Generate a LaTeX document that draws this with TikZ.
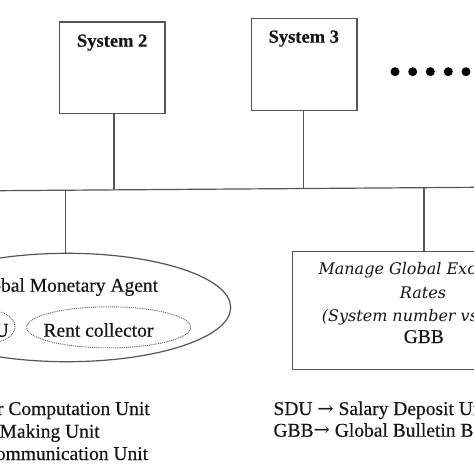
\documentclass[tikz,border=0pt]{standalone}
\usepackage{fontspec}
\setmainfont{Liberation Serif}[FakeBold=0.35]
\newfontfamily\slabfont{DejaVu Serif}
\usetikzlibrary{shapes.geometric}
\definecolor{linegray}{HTML}{555555}
\definecolor{inkc}{HTML}{151515}
\tikzset{
  wire/.style={draw=linegray, line width=1.2pt},
  sysbox/.style={draw=linegray, line width=1.2pt, rectangle, inner sep=0pt, fill=none},
  bigell/.style={draw=linegray, line width=1.2pt, ellipse, inner sep=0pt},
  dotell/.style={draw=linegray, line width=0.9pt, densely dotted, ellipse, inner sep=0pt},
  txt/.style={inner sep=0pt, text=inkc, font=\fontsize{19.5}{21}\selectfont},
  systxt/.style={inner sep=0pt, text=inkc, font=\fontsize{18.5}{20}\selectfont\bfseries},
  ittxt/.style={inner sep=0pt, text=inkc, font=\slabfont\itshape\fontsize{16}{18}\selectfont},
  blob/.style={circle, fill=black, inner sep=0pt, minimum size=9pt}
}
\begin{document}
\begin{tikzpicture}[x=1pt,y=-1pt]
\useasboundingbox (0,0) rectangle (474,474);
\fill[white] (0,0) rectangle (474,474);
\clip (0,0) rectangle (474,474);
% system boxes
\node[sysbox, minimum width=105.7pt, minimum height=91.7pt] (s2) at (112.15,67.85) {};
\node[systxt, anchor=base] (s2t) at (112.2,46.7) {System 2};
\node[sysbox, minimum width=105.7pt, minimum height=91.6pt] (s3) at (304.15,64.5) {};
\node[systxt, anchor=base] (s3t) at (303.8,42.7) {System 3};
% dots
\node[blob] (d1) at (395,71.7) {};
\node[blob] (d2) at (412.7,71.7) {};
\node[blob] (d3) at (430.3,71.7) {};
\node[blob] (d4) at (448.3,71.7) {};
\node[blob] (d5) at (466,71.7) {};
% bus
\coordinate (busL) at (-2,190.7);
\coordinate (busR) at (476,187.3);
\draw[wire] (busL) -- (busR);
\coordinate (j2) at (114,189.9);
\coordinate (j3) at (303.3,188.5);
\coordinate (j1) at (65.7,190.2);
\coordinate (j4) at (424,187.7);
\draw[wire] (s2.south -| j2) -- (j2);
\draw[wire] (s3.south -| j3) -- (j3);
% global monetary agent
\node[bigell, minimum width=327.6pt, minimum height=108.4pt] (gma) at (66.9,307.5) {};
\draw[wire] (j1) -- (j1 |- gma.north);
\node[txt, anchor=base east] (gmat) at (158.3,291.7) {Global Monetary Agent};
\node[dotell, minimum width=55pt, minimum height=33.4pt] (sdu) at (-12.5,326.7) {};
\node[txt, anchor=base east] (sdut) at (9,336.7) {SDU};
\node[dotell, minimum width=164pt, minimum height=41pt] (rc) at (108.7,327.3) {};
\node[txt, anchor=base west] (rct) at (43.3,336.7) {Rent collector};
% exchange rate box
\node[sysbox, minimum width=263.7pt, minimum height=117.6pt] (xr) at (424.15,310.5) {};
\draw[wire] (j4) -- (j4 |- xr.north);
\node[ittxt, anchor=base west] (x1) at (318.3,274.7) {Manage Global Exchange};
\node[ittxt, anchor=base] (x2) at (423,298) {Rates};
\node[ittxt, anchor=base west] (x3) at (321.7,321.3) {(System number vs. Rates)};
\node[txt, anchor=base] (x4) at (423.8,343) {GBB};
% legends
\node[txt, anchor=base east] (l1) at (150,415) {r Computation Unit};
\node[txt, anchor=base east] (l2) at (100,437.7) {Making Unit};
\node[txt, anchor=base east] (l3) at (148.3,460) {Communication Unit};
\node[txt, anchor=base west] (r1) at (273.3,415) {SDU {\slabfont →} Salary Deposit Unit};
\node[txt, anchor=base west] (r2) at (273.3,436.7) {GBB{\slabfont →} Global Bulletin Board};
\end{tikzpicture}
\end{document}
